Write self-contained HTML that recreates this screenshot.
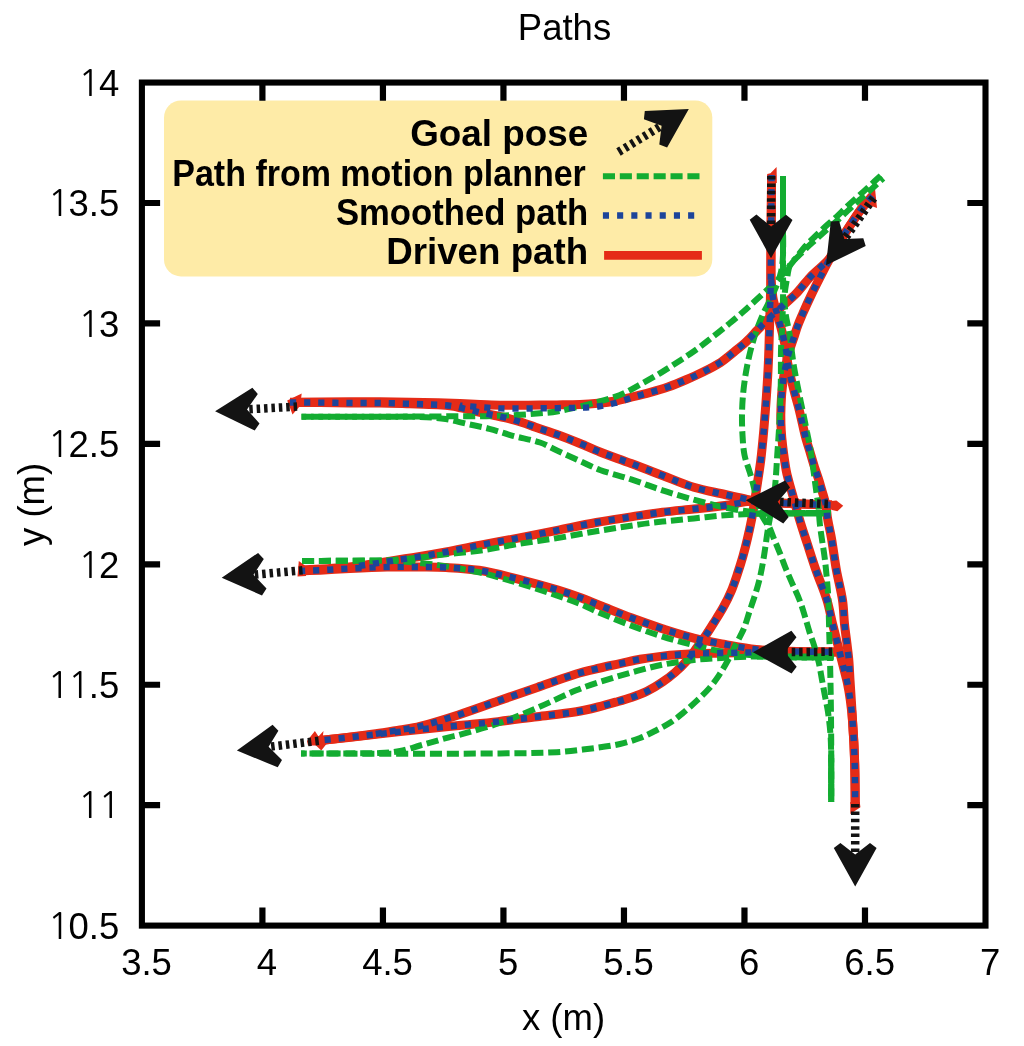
<!DOCTYPE html>
<html><head><meta charset="utf-8"><title>Paths</title>
<style>html,body{margin:0;padding:0;background:#fff;overflow:hidden}svg{display:block}</style>
</head><body>
<svg width="1024" height="1046" viewBox="0 0 1024 1046">
<rect width="1024" height="1046" fill="#fff"/>
<rect x="164" y="100.4" width="548.3" height="176" rx="17" ry="17" fill="#feeba7"/>
<path d="M262.41 82.55V100.75M262.41 925.60V907.40M382.93 82.55V100.75M382.93 925.60V907.40M503.44 82.55V100.75M503.44 925.60V907.40M623.96 82.55V100.75M623.96 925.60V907.40M744.47 82.55V100.75M744.47 925.60V907.40M864.99 82.55V100.75M864.99 925.60V907.40M141.90 805.16H160.10M985.50 805.16H967.30M141.90 684.73H160.10M985.50 684.73H967.30M141.90 564.29H160.10M985.50 564.29H967.30M141.90 443.86H160.10M985.50 443.86H967.30M141.90 323.42H160.10M985.50 323.42H967.30M141.90 202.99H160.10M985.50 202.99H967.30" stroke="#000" stroke-width="6.2" fill="none"/>
<rect x="141.9" y="82.55" width="843.60" height="843.05" stroke="#000" stroke-width="6.1" fill="none"/>
<g font-family='"Liberation Sans", Arial, Helvetica, sans-serif' font-size="36.5" fill="#000"><text x="146.50" y="975.4" text-anchor="middle">3.5</text><text x="267.01" y="975.4" text-anchor="middle">4</text><text x="387.53" y="975.4" text-anchor="middle">4.5</text><text x="508.04" y="975.4" text-anchor="middle">5</text><text x="628.56" y="975.4" text-anchor="middle">5.5</text><text x="749.07" y="975.4" text-anchor="middle">6</text><text x="869.59" y="975.4" text-anchor="middle">6.5</text><text x="990.10" y="975.4" text-anchor="middle">7</text><text x="119.2" y="938.90" text-anchor="end"><tspan font-family="NanumGothic, 'Liberation Sans', sans-serif" letter-spacing="-1.5">1</tspan>0.5</text><text x="119.2" y="818.46" text-anchor="end"><tspan font-family="NanumGothic, 'Liberation Sans', sans-serif" letter-spacing="-1.5">1</tspan><tspan font-family="NanumGothic, 'Liberation Sans', sans-serif" letter-spacing="-1.5">1</tspan></text><text x="119.2" y="698.03" text-anchor="end"><tspan font-family="NanumGothic, 'Liberation Sans', sans-serif" letter-spacing="-1.5">1</tspan><tspan font-family="NanumGothic, 'Liberation Sans', sans-serif" letter-spacing="-1.5">1</tspan>.5</text><text x="119.2" y="577.59" text-anchor="end"><tspan font-family="NanumGothic, 'Liberation Sans', sans-serif" letter-spacing="-1.5">1</tspan>2</text><text x="119.2" y="457.16" text-anchor="end"><tspan font-family="NanumGothic, 'Liberation Sans', sans-serif" letter-spacing="-1.5">1</tspan>2.5</text><text x="119.2" y="336.72" text-anchor="end"><tspan font-family="NanumGothic, 'Liberation Sans', sans-serif" letter-spacing="-1.5">1</tspan>3</text><text x="119.2" y="216.29" text-anchor="end"><tspan font-family="NanumGothic, 'Liberation Sans', sans-serif" letter-spacing="-1.5">1</tspan>3.5</text><text x="119.2" y="95.85" text-anchor="end"><tspan font-family="NanumGothic, 'Liberation Sans', sans-serif" letter-spacing="-1.5">1</tspan>4</text><text x="564.5" y="39.6" text-anchor="middle">Paths</text><text x="563.5" y="1030.4" text-anchor="middle">x (m)</text><text transform="translate(44.4 504.4) rotate(-90)" text-anchor="middle">y (m)</text></g>
<g font-family='"Liberation Sans", Arial, Helvetica, sans-serif' font-weight="bold" font-size="36" fill="#000" text-anchor="end"><text x="588.2" y="146.1" textLength="178" lengthAdjust="spacingAndGlyphs">Goal pose</text><text x="585.8" y="185.6" textLength="413.5" lengthAdjust="spacingAndGlyphs">Path from motion planner</text><text x="588.2" y="224.8" textLength="252.3" lengthAdjust="spacingAndGlyphs">Smoothed path</text><text x="588.2" y="263.9" textLength="202" lengthAdjust="spacingAndGlyphs">Driven path</text></g>
<path d="M602.9 176.2H699.7" stroke="#13ac31" stroke-width="6" stroke-dasharray="12.1 4.8" fill="none"/>
<path d="M602.9 215.5H699.7" stroke="#1c449a" stroke-width="6.4" stroke-dasharray="6.1 8.1" fill="none"/>
<path d="M604.1 255.35H701.9" stroke="#e52b17" stroke-width="8.9" fill="none"/>
<path d="M618.5 152L661.8 125.6" stroke="#131313" stroke-width="8.5" stroke-dasharray="3.5 3.9" fill="none"/>
<path d="M688.8 109.1L644.8 110.9L643.9 119.2L661.6 125.7L659.3 144.4L667.1 147.4Z" fill="#131313"/>
<g fill="none" stroke="#e52b17" stroke-width="9" stroke-linejoin="round"><path d="M771.6 175C771.5 186.7 771.4 198.3 771.3 210C771.2 223.3 771.1 236.7 771 250C770.9 263.3 770.8 276.7 770.6 290C770.4 301.7 769.9 313.3 769.6 325C769.2 336.7 769 348.3 768.5 360C768 371.7 767.3 383.3 766.5 395C765.7 406.7 764.8 418.3 763.8 430C762.9 440 762 450 760.8 460C759.9 467.4 758.7 474.7 757.6 482C756.6 488.7 755.6 495.3 754.5 502C753.5 508 752.6 514 751.5 520C750.3 526 749 532 747.6 538C746.2 544 744.7 550 743 556C741.3 562 739.4 568 737.4 574C735.5 579.7 733.6 585.5 731.3 591C729 596.5 726.3 601.8 723.4 607C720.5 612.3 717.2 617.4 714 622.5C711.4 626.7 708.8 630.9 706 635C703.1 639.2 700.1 643.4 697 647.5C693.9 651.7 690.9 656.1 687.5 660C683.6 664.4 679.4 668.6 675 672.5C671.1 675.9 666.8 679.1 662.5 682C657.5 685.4 652.4 688.6 647 691.3C642 693.8 636.6 695.7 631.3 697.5C626.1 699.3 620.9 700.7 615.6 702.2C609.8 703.9 603.9 705.6 598 707C590.8 708.8 583.6 710.6 576.3 711.8C563.3 713.9 550.2 715.1 537.2 716.7C524.2 718.3 511.2 720.1 498.1 721.6C485.1 723.1 472 724.2 459 725.5C446 726.8 433 728 420 729.4C405.3 731 390.5 732.8 375.8 734.4C356.4 736.6 336.9 738.7 317.5 740.8"/><path d="M771.6 175C771.5 186.7 771.4 198.3 771.3 210C771.2 223.3 771 236.7 771 250C771 260 770.8 270 771.2 280C771.4 285.7 771.9 291.4 772.8 297C773.6 302.1 775.2 307 776.5 312C777.7 316.7 779.2 321.3 780.5 326C781.6 330 782.6 334 783.5 338C784.3 341.6 785.2 345.3 785.8 349C786.6 353.6 786.9 358.4 787.7 363C788.5 367.7 789.5 372.4 790.6 377C791.8 382 793.1 387 794.4 392C795.6 396.7 797 401.3 798.2 406C799.2 410 800.2 414 801.1 418C802.6 424.3 803.9 430.7 805.5 437C806.8 442 808.5 447 810 452C811.5 457 812.9 462 814.5 467C815.8 471 817.2 475 818.5 479C819.7 482.6 820.7 486.3 821.8 490C823.1 494.7 824.7 499.4 825.7 504.2C826.7 509 826.8 514 827.6 518.8C828.7 525.4 830.4 531.8 831.5 538.4C833.3 548.9 834.5 559.5 836.4 570C838.2 580 841 589.9 842.5 600C843.7 607.9 843.7 616 844.5 624C845.2 630.7 846.2 637.3 847 644C847.6 649.3 848.4 654.7 848.8 660C849.4 666.7 849.6 673.3 850 680C850.4 686.7 850.9 693.3 851.3 700C851.8 707.3 852.2 714.7 852.6 722C853.1 729.7 853.6 737.3 854 745C854.3 751.3 854.5 757.7 854.7 764C854.9 771 855 778 855.1 785C855.2 791.3 855.2 797.7 855.2 804"/><path d="M872.5 196C869 200 865.2 203.8 862 208C858.1 213.1 854.6 218.6 851 224C847.3 229.6 843.6 235.3 840 241C836.3 247 833.4 253.6 829 259C823.5 265.6 816.3 270.7 810.3 277C805.4 282.2 801.3 288.2 796.3 293.4C791.9 298 786.9 302 782.2 306.3C777.9 310.2 773.5 314 769.3 318C765.3 321.9 761.4 326 757.5 330C754 333.6 750.7 337.5 747 341C742.9 344.9 738.4 348.4 734 352C729.6 355.6 725.3 359.3 720.6 362.4C715 366 709 369 703 372C697.3 374.9 691.4 377.5 685.5 380C679.7 382.5 673.9 384.9 668 387C662.2 389 656.2 390.7 650.3 392.3C644.2 394 638.1 395.5 632 397C626.4 398.4 620.9 400 615.2 401C609.5 402.1 603.8 402.7 598 403.3C592 403.9 586 404.3 580 404.5C572.3 404.8 564.7 404.8 557 404.9C551.3 405 545.7 405 540 405.1C533.3 405.2 526.7 405.3 520 405.3C513.3 405.3 506.7 405.3 500 405.2C493.3 405.1 486.7 404.8 480 404.5C473.3 404.2 466.7 403.8 460 403.5C452.6 403.2 445.2 403 437.8 402.8C428.5 402.6 419.3 402.4 410 402.2C400 402 390 401.9 380 401.8C370 401.7 360 401.8 350 401.8C340 401.8 330 401.9 320 402C310 402.1 300 402.2 290 402.3"/><path d="M872.5 196C869 200 865.2 203.8 862 208C858.1 213.1 854.6 218.6 851 224C847.3 229.6 843.5 235.2 840 241C836.2 247.2 832.5 253.6 829 260C825.8 265.9 822.7 272 819.7 278C816.5 284.3 813.3 290.6 810.3 297C807.8 302.3 805.4 307.6 803 313C801.3 317 799.5 320.9 798 325C796.5 328.9 795.3 333 794 337C792.7 341 791.2 345 790 349C788.9 352.6 787.9 356.3 787 360C786.1 364 785.2 368 784.5 372C783.9 375.3 783.4 378.7 783 382C782.4 386.8 781.8 391.7 781.5 396.5C781.1 402.7 780.9 408.8 780.8 415C780.8 420 780.9 425 781.2 430C781.5 435.2 782 440.4 782.6 445.5C783.6 453.7 784.7 461.9 786.1 470C786.8 474 788 478 789 482C790.1 486.2 791.3 490.3 792.5 494.4C794.8 502.5 796.9 510.7 799.3 518.8C801.7 527 804.5 535.1 807.1 543.2C810 552.1 812.8 561.1 815.9 570C819.4 580.1 823.8 589.8 826.9 600C829.4 608 830.7 616.3 832.7 624.4C834.3 630.9 836 637.5 837.6 644C839.2 650.5 840.9 657 842.5 663.5C844.1 670 846 676.5 847.4 683C848.6 688.6 849.5 694.3 850.3 700C851.3 707.3 852.1 714.6 852.6 722C853.6 736 854.3 750 854.7 764C855.1 777.3 855 790.7 855.2 804"/><path d="M290 402.5C300 402.5 310 402.5 320 402.6C330 402.7 340 402.9 350 403C360 403.1 370 402.9 380 403C390 403.1 400 403.5 410 403.8C419.3 404.1 428.5 404.3 437.8 404.8C442.5 405 447.3 405.3 452 406C456.9 406.8 461.8 408.1 466.7 409.2C471.1 410.2 475.6 411.3 480 412.3C484.9 413.4 489.9 414.4 494.8 415.5C499.5 416.5 504.2 417.4 508.9 418.6C513.4 419.7 517.8 421.1 522.2 422.5C526.7 423.9 531.1 425.7 535.5 427.2C542.7 429.7 549.9 431.9 557 434.5C564.7 437.3 572.4 440.4 580 443.5C586.7 446.2 593.3 449.4 600 452C610.3 456 620.9 459.6 631.2 463.5C641.7 467.4 652.1 471.5 662.5 475.5C672.9 479.5 683.1 484.1 693.8 487.3C704 490.4 714.6 492.1 725 494.5C732.3 496.1 739.6 497.8 746.9 499.3C751.2 500.2 755.6 501.1 760 501.5C770 502.5 780 503 790 503.5C798.3 504 806.7 504.2 815 504.5C820.7 504.7 826.3 504.8 832 505"/><path d="M299 570.5C301.2 570.3 303.4 569.9 305.6 569.8C313.7 569.3 321.9 569.1 330 568.5C339.7 567.8 349.4 567.1 359 566C364 565.4 369 564.4 374 563.6C379.3 562.8 384.7 562 390 561.2C395 560.4 400 559.6 405 558.8C410 558 415 557.3 420 556.5C428.7 555.1 437.4 553.6 446 552C457 549.9 468 547.4 479 545.3C492 542.8 505.1 540.6 518.1 538.1C531.2 535.6 544.2 532.9 557.2 530.3C570.2 527.7 583.2 524.9 596.2 522.5C607.9 520.4 619.6 518.7 631.2 516.9C641.7 515.3 652.1 513.5 662.5 512.2C672.9 510.9 683.3 510.1 693.8 509C704.2 507.9 714.6 507 725 505.5C732.3 504.5 739.6 502.2 746.9 501.5C751.2 501.1 755.6 501.8 760 502C770 502.5 780 503 790 503.5C798.3 503.9 806.7 504.2 815 504.5C820.7 504.7 826.3 504.8 832 505"/><path d="M299 571C306 570.7 313 570.5 320 570.2C330 569.7 340 569 350 568.5C362.3 567.9 374.7 567.3 387 567C398 566.8 409 566.9 420 567C428.7 567.1 437.3 567 446 567.5C457 568.1 468.1 568.6 479 570.3C492.2 572.4 505.1 575.9 518.1 579.1C531.2 582.4 544.3 586 557.2 589.8C564.9 592.1 572.5 594.7 580 597.5C586.7 600 593.3 602.9 600 605.5C610.4 609.6 620.8 613.9 631.2 617.8C641.6 621.6 652 625.3 662.5 628.8C672.8 632.1 683.2 635.5 693.8 638.1C704 640.7 714.5 642.5 725 644.4C735.4 646.3 745.8 648.4 756.2 649.5C767.4 650.7 778.7 650.9 790 651.3C805.3 651.8 820.7 651.8 836 652"/><path d="M317.5 740.8C326.7 739.7 335.8 738.7 345 737.6C355.3 736.4 365.6 735.2 375.8 733.8C383.9 732.7 391.9 731.3 400 730C406.7 728.9 413.5 728.1 420 726.4C433.1 723 446.1 718.9 459 714.7C472.1 710.4 485.1 705.6 498.1 701C511.1 696.5 524.2 691.9 537.2 687.4C550.2 682.9 563.1 678.1 576.2 674C584 671.6 592.1 669.9 600 668C606.6 666.4 613.3 665.1 620 663.6C626.7 662.2 633.3 660.5 640 659.3C647.5 658 655 656.9 662.5 656.1C672.9 655 683.3 654.3 693.8 653.8C704.2 653.2 714.6 653.3 725 653C735.4 652.7 745.8 652.4 756.2 652.2C767.5 652 778.7 652 790 652C805.3 652 820.7 652 836 652"/></g>
<g fill="#e52b17"><path d="M767.2 174L770.5 173.3L776.6 167L776.8 183L767.2 183Z"/><path d="M875 188.6L877 208L861.6 202.5Z"/><path d="M287.2 400.5L301.7 393.5L300 406L292.5 414.4Z"/><path d="M832 501L836.4 500.6L843.2 505.8L837.4 511.3L832 510Z"/><path d="M298.8 561L306.3 566.5L306 576L297.5 576.5Z"/><path d="M850.3 802L859.8 802L860.4 807.3L850.3 814Z"/><path d="M307 741L314.9 731L318.5 736.5L323.5 731L322.5 739L328 742L321.3 750.4L316 745.5L308 745.5Z"/></g>
<g fill="none" stroke="#13ac31" stroke-width="6" stroke-dasharray="12.1 4.8"><path d="M783 176C783 190.7 783 205.3 783 220C783 233.3 783 246.7 783 260C783 273.3 783.2 286.7 783 300C782.9 310 782.4 320 782 330C781.7 336.7 781.2 343.3 781 350C780.8 358.3 781 366.7 780.9 375C780.8 382.2 780.7 389.3 780.5 396.5C780.3 404 780 411.5 779.6 419C779.2 426 778.8 433 778.3 440C778 444.8 777.6 449.5 777.3 454.3C776.7 463.1 776.3 471.8 775.6 480.6C775.1 487.1 774.5 493.6 773.5 500C772.8 505 771.5 510 770.5 515C769.6 520 768.6 525 767.8 530C766.9 535.3 766.3 540.7 765.5 546C764.7 551.3 763.9 556.7 763 562C762 567.7 760.9 573.4 759.6 579C758.6 583.1 757.5 587.2 756.2 591.2C754.3 597.5 752.1 603.8 750 610C747.9 616.2 746.2 622.7 743.8 628.8C741.5 634.1 738.5 639.2 735.9 644.4C733.3 649.6 730.9 654.9 728.1 660C725.2 665.3 722.1 670.6 718.8 675.6C715.9 679.9 712.8 684.2 709.4 688.1C705.5 692.5 701.2 696.6 696.9 700.6C692.3 704.9 687.6 709.1 682.8 713.1C679.3 716 675.8 719 672 721.5C666.6 725 660.8 728 655 731C650.1 733.5 645.2 736.1 640 738C633.5 740.4 626.8 742.5 620 744C612 745.8 603.9 746.9 595.8 747.9C582.8 749.6 569.8 751.4 556.7 752.2C537.8 753.3 518.9 753.2 500 753.4C473.3 753.7 446.7 753.8 420 753.8C396.7 753.8 373.3 753.7 350 753.6C333.7 753.5 317.3 753.5 301 753.4" stroke-dashoffset="0"/><path d="M783 176C783 190.7 783 205.3 783 220C783 231.7 783.4 243.4 783 255C782.8 260.7 782.2 266.5 781 272C779.9 277.1 777.9 282.1 776 287C774.3 291.4 772.1 295.7 770 300C768.1 304 765.9 307.9 764 312C762 316.3 760.2 320.6 758.5 325C756.7 329.9 755 334.9 753.5 340C751.8 345.6 750.3 351.3 749 357C747.6 363 746.5 369 745.5 375C744.5 381.6 743.6 388.3 743 395C742.4 401.6 742.1 408.3 742 415C741.9 421.7 742.1 428.3 742.5 435C742.9 441.7 743.2 448.5 744.5 455C745.7 461.1 748.2 467 750 473C751.2 477 752.3 481 753.3 485C754.5 489.6 755.5 494.2 756.7 498.7C758 503.7 759.2 508.8 761 513.6C762 516.2 763.5 518.6 765 521C766.3 523.2 768.2 525.1 769.4 527.4C771.2 531.1 772.4 535.1 774 538.9C775.9 543.5 777.9 548 779.7 552.6C781.7 557.6 783.4 562.6 785.4 567.6C787.6 573 790 578.3 792.3 583.6C794.7 589.1 797.3 594.4 799.5 600C801.4 604.8 802.9 609.7 804.4 614.6C806.1 620.1 807.6 625.8 809.3 631.3C810.8 636.2 812.7 641 814.2 645.9C816 651.7 817.6 657.6 819 663.5C820.2 668.9 821 674.5 822 680C823 685.2 823.9 690.5 824.9 695.7C825.9 701.1 827.2 706.5 828 712C829.1 719.6 830 727.3 830.5 735C831.1 743.3 831.1 751.7 831.2 760C831.3 774 831.2 788 831.2 802" stroke-dashoffset="8.4"/><path d="M880.7 175.6C876.8 179.2 872.9 182.9 869 186.5C865.4 189.9 861.7 193.2 858 196.5C854.3 199.8 850.6 203.1 847 206.5C843.5 209.8 840.2 213.3 836.7 216.6C833.2 219.8 829.5 222.8 826 226C822.3 229.4 818.6 233 815 236.5C811.6 239.8 808.1 243 805 246.5C801.8 250.1 799 254.2 796 258C793.4 261.3 790.7 264.7 788 268C784.9 271.7 781.8 275.5 778.5 279C774.8 282.8 770.9 286.4 767 290C763.2 293.5 759.3 297 755.5 300.5C751.5 304.2 747.6 307.9 743.5 311.5C738.9 315.6 734.2 319.6 729.4 323.5C723.7 328.2 717.9 332.9 712 337.5C706.2 342.1 700.3 346.7 694.3 351C688.7 355 682.8 358.7 677 362.5C671.1 366.3 665.2 370.2 659.1 373.8C653.2 377.3 647.1 380.7 641 384C635.4 387.1 629.8 390.5 624 393.2C619.5 395.3 614.7 396.9 610 398.5C605.9 399.9 601.7 400.9 597.6 402C591.7 403.6 585.9 405.1 580 406.5C572.4 408.3 564.7 410.2 557 411.5C551.4 412.5 545.7 412.8 540 413.3C533.3 413.9 526.7 414.4 520 414.8C515 415.1 510 415.3 505 415.5C497.2 415.8 489.4 416.1 481.6 416.2C473.7 416.3 465.9 416.3 458 416.3C445.3 416.4 432.7 416.4 420 416.5C405.9 416.6 391.8 416.7 377.7 416.7C365.1 416.7 352.6 416.7 340 416.7C327.2 416.7 314.3 416.7 301.5 416.7" stroke-dashoffset="0"/><path d="M883.2 178.2C879.3 181.8 875.4 185.5 871.5 189.1C867.9 192.5 864.2 195.8 860.5 199.1C856.8 202.4 853.1 205.7 849.5 209.1C846 212.4 842.6 215.8 839 219C835.4 222.2 831.6 225.3 828 228.5C824.3 231.8 820.7 235.2 817 238.5C813.5 241.7 809.9 244.8 806.5 248C803.4 250.9 800.5 254 797.5 257C795.1 259.3 791.8 261.1 790.4 264C788.2 268.5 787.8 274.2 786.9 279.3C785.9 285.1 784.7 291 784.5 296.9C784.3 302.7 784.9 308.7 785.7 314.5C786.5 320.4 788.2 326.1 789.2 332C790.2 338 790.8 344 791.6 350C792.4 355.7 793.1 361.4 794 367C794.9 372.4 796 377.7 797 383C798.2 389 799.4 395 800.6 401C801.7 406.3 802.9 411.7 804 417C805 422 806 427 807 432C808 437 809.1 442 810 447C810.9 452.3 811.7 457.7 812.5 463C813.7 471.8 814.8 480.6 816 489.4C816.8 495.3 817.8 501.1 818.5 507C819.1 512.5 819.2 518.1 819.8 523.7C820.3 528.6 821.1 533.5 821.8 538.4C822.7 544.9 823.9 551.4 824.7 557.9C825.4 563.6 826 569.3 826.5 575C827.1 581.7 827.8 588.3 828.2 595C828.6 601.7 828.6 608.3 828.8 615C829 621.7 829.1 628.3 829.3 635C829.5 643.3 829.8 651.7 830 660C830.3 673.3 830.6 686.7 830.8 700C831 713.3 831.1 726.7 831.2 740C831.3 760.7 831.2 781.3 831.2 802" stroke-dashoffset="8.4"/><path d="M301.5 416.7C314.3 416.7 327.2 416.7 340 416.7C352.6 416.7 365.1 416.7 377.7 416.7C391.8 416.8 405.9 416.5 420 417C428.5 417.3 437.2 417.8 445.6 419C453 420.1 460.2 422.4 467.5 424C474.8 425.6 482.2 426.9 489.4 428.8C497.3 430.8 504.9 433.7 512.8 435.8C521.8 438.2 531.2 439.6 540 442.5C545.9 444.5 551.3 447.9 557 450.5C564.6 454 572.3 457.5 580 461C586.7 464 593.1 467.5 600 470C610.2 473.7 620.9 476 631.2 479.4C641.7 482.8 652 486.9 662.5 490.3C672.8 493.7 683.3 496.8 693.8 499.7C704.1 502.5 714.5 505.4 725 507.5C735.3 509.6 745.8 511.3 756.2 512.2C767.4 513.1 778.7 512.9 790 513C803.7 513.1 817.3 513 831 513" stroke-dashoffset="0"/><path d="M302 561C314.7 560.9 327.3 560.9 340 560.8C354.7 560.7 369.4 561 384 560.5C394.4 560.1 404.7 559 415 558C425.4 556.9 435.7 555.4 446 554.2C457 553 468.1 552.3 479 550.8C492.1 548.9 505 546.1 518.1 544C531.1 541.9 544.2 540.2 557.2 538.1C570.2 536 583.2 533.4 596.2 531.2C610.8 528.8 625.4 526.5 640 524.4C647.5 523.3 655 522.4 662.5 521.6C672.9 520.4 683.3 519.5 693.8 518.4C704.2 517.4 714.6 516.1 725 515.3C735.4 514.5 745.8 514.1 756.2 513.8C767.5 513.4 778.7 513.3 790 513.2C803.7 513.1 817.3 513.1 831 513" stroke-dashoffset="0"/><path d="M302 561C314.7 560.9 327.3 560.9 340 560.8C354.7 560.7 369.3 560.2 384 560.5C394.3 560.7 404.7 561.6 415 562.5C423.4 563.2 431.7 564.1 440 565.4C453 567.4 466.1 569.4 479 572.3C492.2 575.3 505.2 579.1 518.1 583C531.2 586.9 544.2 591.3 557.2 595.7C564.9 598.3 572.5 601 580 604C586.8 606.7 593.3 610.2 600 613C610.3 617.4 620.7 621.6 631.2 625.6C641.6 629.5 652 633.3 662.5 636.6C672.8 639.8 683.3 642.6 693.8 645.2C704.1 647.8 714.5 650.5 725 652.2C735.3 653.9 745.8 654.8 756.2 655.6C767.5 656.5 778.7 656.9 790 657.2C804.6 657.6 819.1 657.5 833.7 657.6" stroke-dashoffset="0"/><path d="M301 753.4C317.3 753.4 333.7 753.5 350 753.4C360 753.3 370 753.5 380 753C386.7 752.7 393.4 752.2 400 751C406.8 749.7 413.3 747.4 420 745.5C429.7 742.8 439.3 739.9 449 737.3C452.3 736.4 455.7 735.9 459 735C472.1 731.3 485.3 727.9 498.1 723.5C511.3 718.9 524.3 713.4 537.2 707.9C550.3 702.3 563.1 695.8 576.2 690.3C584 687.1 592 684.5 600 681.9C610.3 678.6 620.8 675.4 631.2 672.5C641.6 669.7 652 666.8 662.5 664.7C672.8 662.6 683.3 661.2 693.8 660C704.1 658.8 714.6 658.3 725 657.7C735.4 657.1 745.8 656.5 756.2 656.5C767.5 656.4 778.7 657.2 790 657.4C804.6 657.6 819.1 657.5 833.7 657.6" stroke-dashoffset="8.4"/></g>
<g fill="none" stroke="#13ac31" stroke-width="6"><path d="M783 176V250"/><path d="M757 513.5H831"/><path d="M757 656.5H833.7"/><path d="M831.2 758V802"/></g>
<g fill="none" stroke="#1c449a" stroke-width="6.4" stroke-dasharray="6.2 7.9"><path d="M771.6 175C771.5 186.7 771.4 198.3 771.3 210C771.2 223.3 771.1 236.7 771 250C770.9 263.3 770.8 276.7 770.6 290C770.4 301.7 769.9 313.3 769.6 325C769.2 336.7 769 348.3 768.5 360C768 371.7 767.3 383.3 766.5 395C765.7 406.7 764.8 418.3 763.8 430C762.9 440 762 450 760.8 460C759.9 467.4 758.7 474.7 757.6 482C756.6 488.7 755.6 495.3 754.5 502C753.5 508 752.6 514 751.5 520C750.3 526 749 532 747.6 538C746.2 544 744.7 550 743 556C741.3 562 739.4 568 737.4 574C735.5 579.7 733.6 585.5 731.3 591C729 596.5 726.3 601.8 723.4 607C720.5 612.3 717.2 617.4 714 622.5C711.4 626.7 708.8 630.9 706 635C703.1 639.2 700.1 643.4 697 647.5C693.9 651.7 690.9 656.1 687.5 660C683.6 664.4 679.4 668.6 675 672.5C671.1 675.9 666.8 679.1 662.5 682C657.5 685.4 652.4 688.6 647 691.3C642 693.8 636.6 695.7 631.3 697.5C626.1 699.3 620.9 700.7 615.6 702.2C609.8 703.9 603.9 705.6 598 707C590.8 708.8 583.6 710.6 576.3 711.8C563.3 713.9 550.2 715.1 537.2 716.7C524.2 718.3 511.2 720.1 498.1 721.6C485.1 723.1 472 724.2 459 725.5C446 726.8 433 728 420 729.4C405.3 731 390.5 732.8 375.8 734.4C356.4 736.6 336.9 738.7 317.5 740.8"/><path d="M771.2 280C771.7 285.7 771.9 291.4 772.8 297C773.6 302.1 775.2 307 776.5 312C777.7 316.7 779.2 321.3 780.5 326C781.6 330 782.6 334 783.5 338C784.3 341.6 785.2 345.3 785.8 349C786.6 353.6 786.9 358.4 787.7 363C788.5 367.7 789.5 372.4 790.6 377C791.8 382 793.1 387 794.4 392C795.6 396.7 797 401.3 798.2 406C799.2 410 800.2 414 801.1 418C802.6 424.3 803.9 430.7 805.5 437C806.8 442 808.5 447 810 452C811.5 457 812.9 462 814.5 467C815.8 471 817.2 475 818.5 479C819.7 482.6 820.7 486.3 821.8 490C823.1 494.7 824.7 499.4 825.7 504.2C826.7 509 826.8 514 827.6 518.8C828.7 525.4 830.4 531.8 831.5 538.4C833.3 548.9 834.5 559.5 836.4 570C838.2 580 841 589.9 842.5 600C843.7 607.9 843.7 616 844.5 624C845.2 630.7 846.2 637.3 847 644C847.6 649.3 848.4 654.7 848.8 660C849.4 666.7 849.6 673.3 850 680"/><path d="M872.5 196C869 200 865.2 203.8 862 208C858.1 213.1 854.6 218.6 851 224C847.3 229.6 843.6 235.3 840 241C836.3 247 833.4 253.6 829 259C823.5 265.6 816.3 270.7 810.3 277C805.4 282.2 801.3 288.2 796.3 293.4C791.9 298 786.9 302 782.2 306.3C777.9 310.2 773.5 314 769.3 318C765.3 321.9 761.4 326 757.5 330C754 333.6 750.7 337.5 747 341C742.9 344.9 738.4 348.4 734 352C729.6 355.6 725.3 359.3 720.6 362.4C715 366 709 369 703 372C697.3 374.9 691.4 377.5 685.5 380C679.7 382.5 673.9 384.9 668 387C662.2 389 656.2 390.6 650.3 392.3C644.2 394.1 638.1 395.8 632 397.6C626.4 399.4 620.9 401.5 615.2 403C609.5 404.5 603.8 405.7 598 406.5C592.1 407.3 586 407.5 580 407.7C572.3 408 564.7 408 557 408.1C551.3 408.2 545.7 408.2 540 408.3C533.3 408.4 526.7 408.5 520 408.5C513.3 408.5 506.7 408.6 500 408.4C493.3 408.2 486.7 407.6 480 407.1C473.3 406.7 466.7 406.1 460 405.6"/><path d="M829 260C825.9 266 822.7 272 819.7 278C816.5 284.3 813.3 290.6 810.3 297C807.8 302.3 805.4 307.6 803 313C801.3 317 799.5 320.9 798 325C796.5 328.9 795.3 333 794 337C792.7 341 791.2 345 790 349C788.9 352.6 787.9 356.3 787 360C786.1 364 785.2 368 784.5 372C783.9 375.3 783.4 378.7 783 382C782.4 386.8 781.8 391.7 781.5 396.5C781.1 402.7 780.9 408.8 780.8 415C780.8 420 780.9 425 781.2 430C781.5 435.2 782 440.4 782.6 445.5C783.6 453.7 784.7 461.9 786.1 470C786.8 474 788 478 789 482C790.1 486.2 791.3 490.3 792.5 494.4C794.8 502.5 796.9 510.7 799.3 518.8C801.7 527 804.5 535.1 807.1 543.2C810 552.1 812.8 561.1 815.9 570C819.4 580.1 823.8 589.8 826.9 600C829.4 608 830.7 616.3 832.7 624.4C834.3 630.9 836 637.5 837.6 644C839.2 650.5 840.9 657 842.5 663.5C844.1 670 846 676.5 847.4 683C848.6 688.6 849.5 694.3 850.3 700C851.3 707.3 852.1 714.6 852.6 722C853.6 736 854.3 750 854.7 764C855.1 777.3 855 790.7 855.2 804"/><path d="M290 402.5C300 402.5 310 402.5 320 402.6C330 402.7 340 402.9 350 403C360 403.1 370 402.9 380 403C390 403.1 400 403.5 410 403.8C419.3 404.1 428.5 404.3 437.8 404.8C442.5 405 447.3 405.3 452 406C456.9 406.8 461.8 408.1 466.7 409.2C471.1 410.2 475.6 411.3 480 412.3C484.9 413.4 489.9 414.4 494.8 415.5C499.5 416.5 504.2 417.4 508.9 418.6C513.4 419.7 517.8 421.1 522.2 422.5C526.7 423.9 531.1 425.7 535.5 427.2C542.7 429.7 549.9 431.9 557 434.5C564.7 437.3 572.4 440.4 580 443.5C586.7 446.2 593.3 449.4 600 452C610.3 456 620.9 459.6 631.2 463.5C641.7 467.4 652.1 471.5 662.5 475.5C672.9 479.5 683.1 484.1 693.8 487.3C704 490.4 714.6 492.1 725 494.5C732.3 496.1 739.6 497.8 746.9 499.3C751.2 500.2 755.6 501.1 760 501.5C770 502.5 780 503 790 503.5C798.3 504 806.7 504.2 815 504.5C820.7 504.7 826.3 504.8 832 505"/><path d="M359 566C364 565.2 369 564.4 374 563.6C379.3 562.8 384.7 562 390 561.2C395 560.4 400 559.6 405 558.8C410 558 415 557.3 420 556.5C428.7 555.1 437.4 553.6 446 552C457 549.9 468 547.4 479 545.3C492 542.8 505.1 540.6 518.1 538.1C531.2 535.6 544.2 532.9 557.2 530.3C570.2 527.7 583.2 524.9 596.2 522.5C607.9 520.4 619.6 518.7 631.2 516.9C641.7 515.3 652.1 513.5 662.5 512.2C672.9 510.9 683.3 510.1 693.8 509C704.2 507.9 714.6 507 725 505.5C732.3 504.5 739.6 502.8 746.9 501.5"/><path d="M299 571C306 570.7 313 570.5 320 570.2C330 569.7 340 569 350 568.5C362.3 567.9 374.7 567.3 387 567C398 566.8 409 566.9 420 567C428.7 567.1 437.3 567 446 567.5C457 568.1 468.1 568.6 479 570.3C492.2 572.4 505.1 575.9 518.1 579.1C531.2 582.4 544.3 586 557.2 589.8C564.9 592.1 572.5 594.7 580 597.5C586.7 600 593.3 602.9 600 605.5C610.4 609.6 620.8 613.9 631.2 617.8C641.6 621.6 652 625.3 662.5 628.8C672.8 632.1 683.2 635.5 693.8 638.1C704 640.7 714.5 642.5 725 644.4C735.4 646.3 745.8 648.4 756.2 649.5C767.4 650.7 778.7 650.9 790 651.3C805.3 651.8 820.7 651.8 836 652"/><path d="M375.8 733.8C383.9 732.5 391.9 731.3 400 730C406.7 728.9 413.5 728.1 420 726.4C433.1 723 446.1 718.9 459 714.7C472.1 710.4 485.1 705.6 498.1 701C511.1 696.5 524.2 691.9 537.2 687.4C550.2 682.9 563.1 678.1 576.2 674C584 671.6 592.1 669.9 600 668C606.6 666.4 613.3 665.1 620 663.6C626.7 662.2 633.3 660.5 640 659.3C647.5 658 655 656.9 662.5 656.1C672.9 655 683.3 654.3 693.8 653.8C704.2 653.2 714.6 653.3 725 653C735.4 652.7 745.8 652.5 756.2 652.2"/></g>
<g fill="none" stroke="#131313" stroke-width="8.5" stroke-dasharray="3.5 3.9"><path d="M771.3 176L771.1 226.6"/><path d="M873.6 198L844.3 239.3"/><path d="M297.1 406.6L246.8 409.4"/><path d="M827.9 504L777.5 501.7"/><path d="M302.5 570.3L253.3 574.8"/><path d="M832.2 651.8L784.7 652.1"/><path d="M318.7 740.8L268.4 746.9"/><path d="M855.2 804L855.2 854.8"/></g>
<g fill="#131313"><path d="M771 258.3L792.5 219.9L786 214.8L771.1 226.4L756.4 214.6L749.7 219.7Z"/><path d="M826 265.2L865.7 246.1L863.3 238.2L844.4 239.1L839.1 221L830.8 221.4Z"/><path d="M215.1 411.2L254.7 430.4L259.5 423.5L247 409.4L257.8 394L252.4 387.7Z"/><path d="M745.8 500.2L783.3 523.4L788.7 517L777.7 501.7L790 487.5L785.2 480.6Z"/><path d="M221.7 577.7L262 595.5L266.5 588.5L253.5 574.8L263.8 559L258.1 552.9Z"/><path d="M753 652.3L791.6 673.5L796.7 666.8L784.9 652.1L796.5 637.2L791.4 630.7Z"/><path d="M236.9 750.6L277.7 767.3L282 760.1L268.6 746.8L278.4 730.7L272.6 724.8Z"/><path d="M855.2 886.5L876.6 848L870 842.9L855.2 854.6L840.4 842.9L833.8 848Z"/></g>
</svg>
</body></html>
